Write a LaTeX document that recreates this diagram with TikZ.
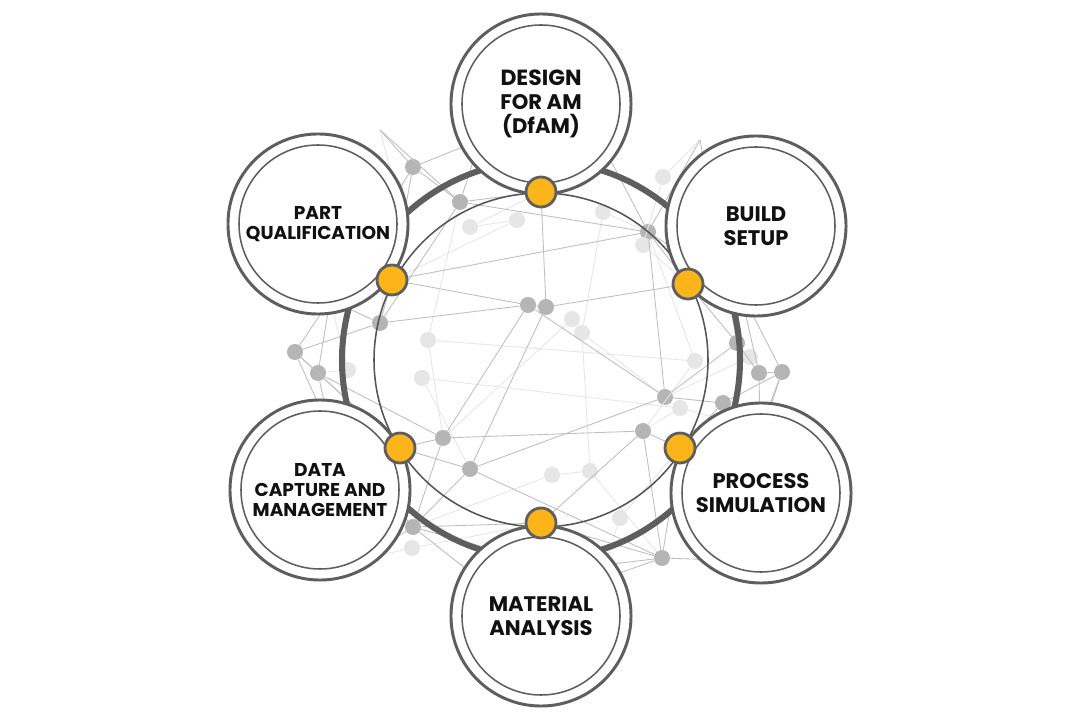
\documentclass[tikz,border=0pt]{standalone}
\usepackage{fontspec}
\setmainfont{Poppins}
\usetikzlibrary{calc}
\definecolor{ringgray}{HTML}{5E5E5E}
\definecolor{amber}{HTML}{FBB41A}
\definecolor{meshline}{HTML}{BEBEBE}
\definecolor{meshdot}{HTML}{B5B5B5}
\definecolor{meshfaint}{HTML}{E6E6E6}
\definecolor{inkblack}{HTML}{111111}
\tikzset{
  stage/.style={circle, draw=ringgray, line width=2.1pt, fill=white, minimum size=4.5cm,
    inner sep=0pt, align=center, text=inkblack, font=\bfseries\fontsize{15}{17.3}\selectfont},
  smallstage/.style={stage, font=\bfseries\fontsize{13.2}{14.4}\selectfont},
  innerring/.style={draw=ringgray, line width=1.1pt},
  hubdot/.style={circle, draw=ringgray, line width=2pt, fill=amber, minimum size=0.75cm, inner sep=0pt},
  knot/.style={circle, fill=meshdot, inner sep=0pt, minimum size=0.4cm},
  faintknot/.style={circle, fill=meshfaint, inner sep=0pt, minimum size=0.4cm},
  mesh/.style={meshline, line width=0.6pt},
  faintmesh/.style={meshfaint, line width=0.6pt}
}

\begin{document}
\begin{tikzpicture}[x=0.025cm, y=-0.025cm]
\useasboundingbox[fill=white] (0,0) rectangle (1080,720);
\coordinate (hub) at (541,360);
\coordinate (pq) at (392,280);
\coordinate (df) at (541,192);
\coordinate (bs) at (688,284);
\coordinate (ps) at (680,448);
\coordinate (ma) at (541,523);
\coordinate (dc) at (400,448);
\foreach \n/\p in {u1/{480,140}, u2/{600,140}, u3/{330,300}, u4/{740,290}, u5/{330,430},
  u6/{760,430}, u7/{480,580}, u8/{600,580}, u9/{380,130}, u10/{700,140}, u11/{360,560}, u12/{720,560}}
  \coordinate (\n) at (\p);
\foreach \n/\p in {k1/{413,167}, k2/{460,202}, k4/{295,352}, k5/{318,373}, k7/{380,323},
  k8/{737,343}, k9/{759,373}, k10/{782,372}, k11/{723,403}, k13/{413,527}, k16/{662,558},
  k17/{648,232}, ka/{528,305}, kb/{546,307}, kg/{665,397}, kh/{643,431}, ki/{443,438}, kj/{470,469}}
  \node[knot] (\n) at (\p) {};
\foreach \n/\p in {f3/{395,188}, f6/{348,370}, f12/{750,357}, f14/{412,548}, f18/{620,518},
  fc/{572,319}, fd/{582,333}, fe/{428,340}, ff/{422,378}, fk/{695,361}, fl/{680,408},
  fn/{590,471}, fo/{552,475}, fp/{603,212}, fq/{643,245}, fr/{517,220}, fs/{470,227}, ft/{663,177}}
  \node[faintknot] (\n) at (\p) {};
\foreach \u/\v in {fc/fd, fd/kg, fe/fk, ff/fl, fo/fn, fn/k16, fp/k17, fr/pq, fs/df, ft/fq,
  fq/bs, f3/k7, f6/k5, f12/kg, f14/ma, f18/ps, fe/ki, ff/kj, fk/kh, fl/u6, fo/k13, fr/fs,
  fp/fd, fc/ki, f3/u9, ft/u10, f14/u11, f18/u8, fl/kh, fe/k2, fd/fn, fk/k17, f6/u3}
  \draw[faintmesh] (\u) -- (\v);
\foreach \u/\v in {pq/ka, kb/bs, ka/ki, kb/kj, ka/kg, k7/ka, ki/kh, kj/kg, k2/k17, k2/k7,
  df/kb, kj/k16, k13/kj, k5/ki, k4/k7, k4/k5, k1/k2, k1/pq, k17/kg, dc/kj, kg/k11, kh/ps,
  ps/k16, bs/k8, k8/k9, k9/k10, k10/k11, k11/ps, k17/bs, k7/pq, k4/dc, k5/dc, pq/k17,
  ma/k13, ma/k16, kh/k16, k13/ki, k1/u1, k1/u9, k2/u1, k17/u2, k17/u10, k4/u3, k5/u3,
  k8/u4, k9/u4, k10/u6, k11/u6, k9/u6, k4/u5, k5/u5, k13/u7, k13/u11, k16/u8, k16/u12,
  k2/df, k8/kg, k7/u3, ki/dc, kh/ma, kb/ka, k2/u9, k17/u4, k10/u4, k11/u12, k13/u5,
  k1/u3, k10/u12, k8/u10, k16/u7, k13/u8}
  \draw[mesh] (\u) -- (\v);
\draw[ringgray, line width=4.3pt] (hub) circle[radius=199];
\draw[ringgray!90!black, line width=1.1pt] (hub) circle[radius=167];
\node[stage] (design) at (541,104) {\fontsize{15.6}{17.6}\selectfont DESIGN\\FOR AM\\(DfAM)};
\node[stage] (build) at (756,226) {BUILD\\SETUP};
\node[stage] (process) at (761,493) {PROCESS\\SIMULATION};
\node[stage] (material) at (541,616) {MATERIAL\\ANALYSIS};
\node[smallstage] (data) at (320,490) {DATA\\CAPTURE AND\\MANAGEMENT};
\node[smallstage] (part) at (318,224) {PART\\QUALIFICATION};
\foreach \n in {design,build,process,material,data,part}
  \draw[innerring] (\n.center) circle[radius=79];
\foreach \n in {pq,df,bs,ps,ma,dc}
  \node[hubdot] (dot\n) at (\n) {};
\end{tikzpicture}
\end{document}
